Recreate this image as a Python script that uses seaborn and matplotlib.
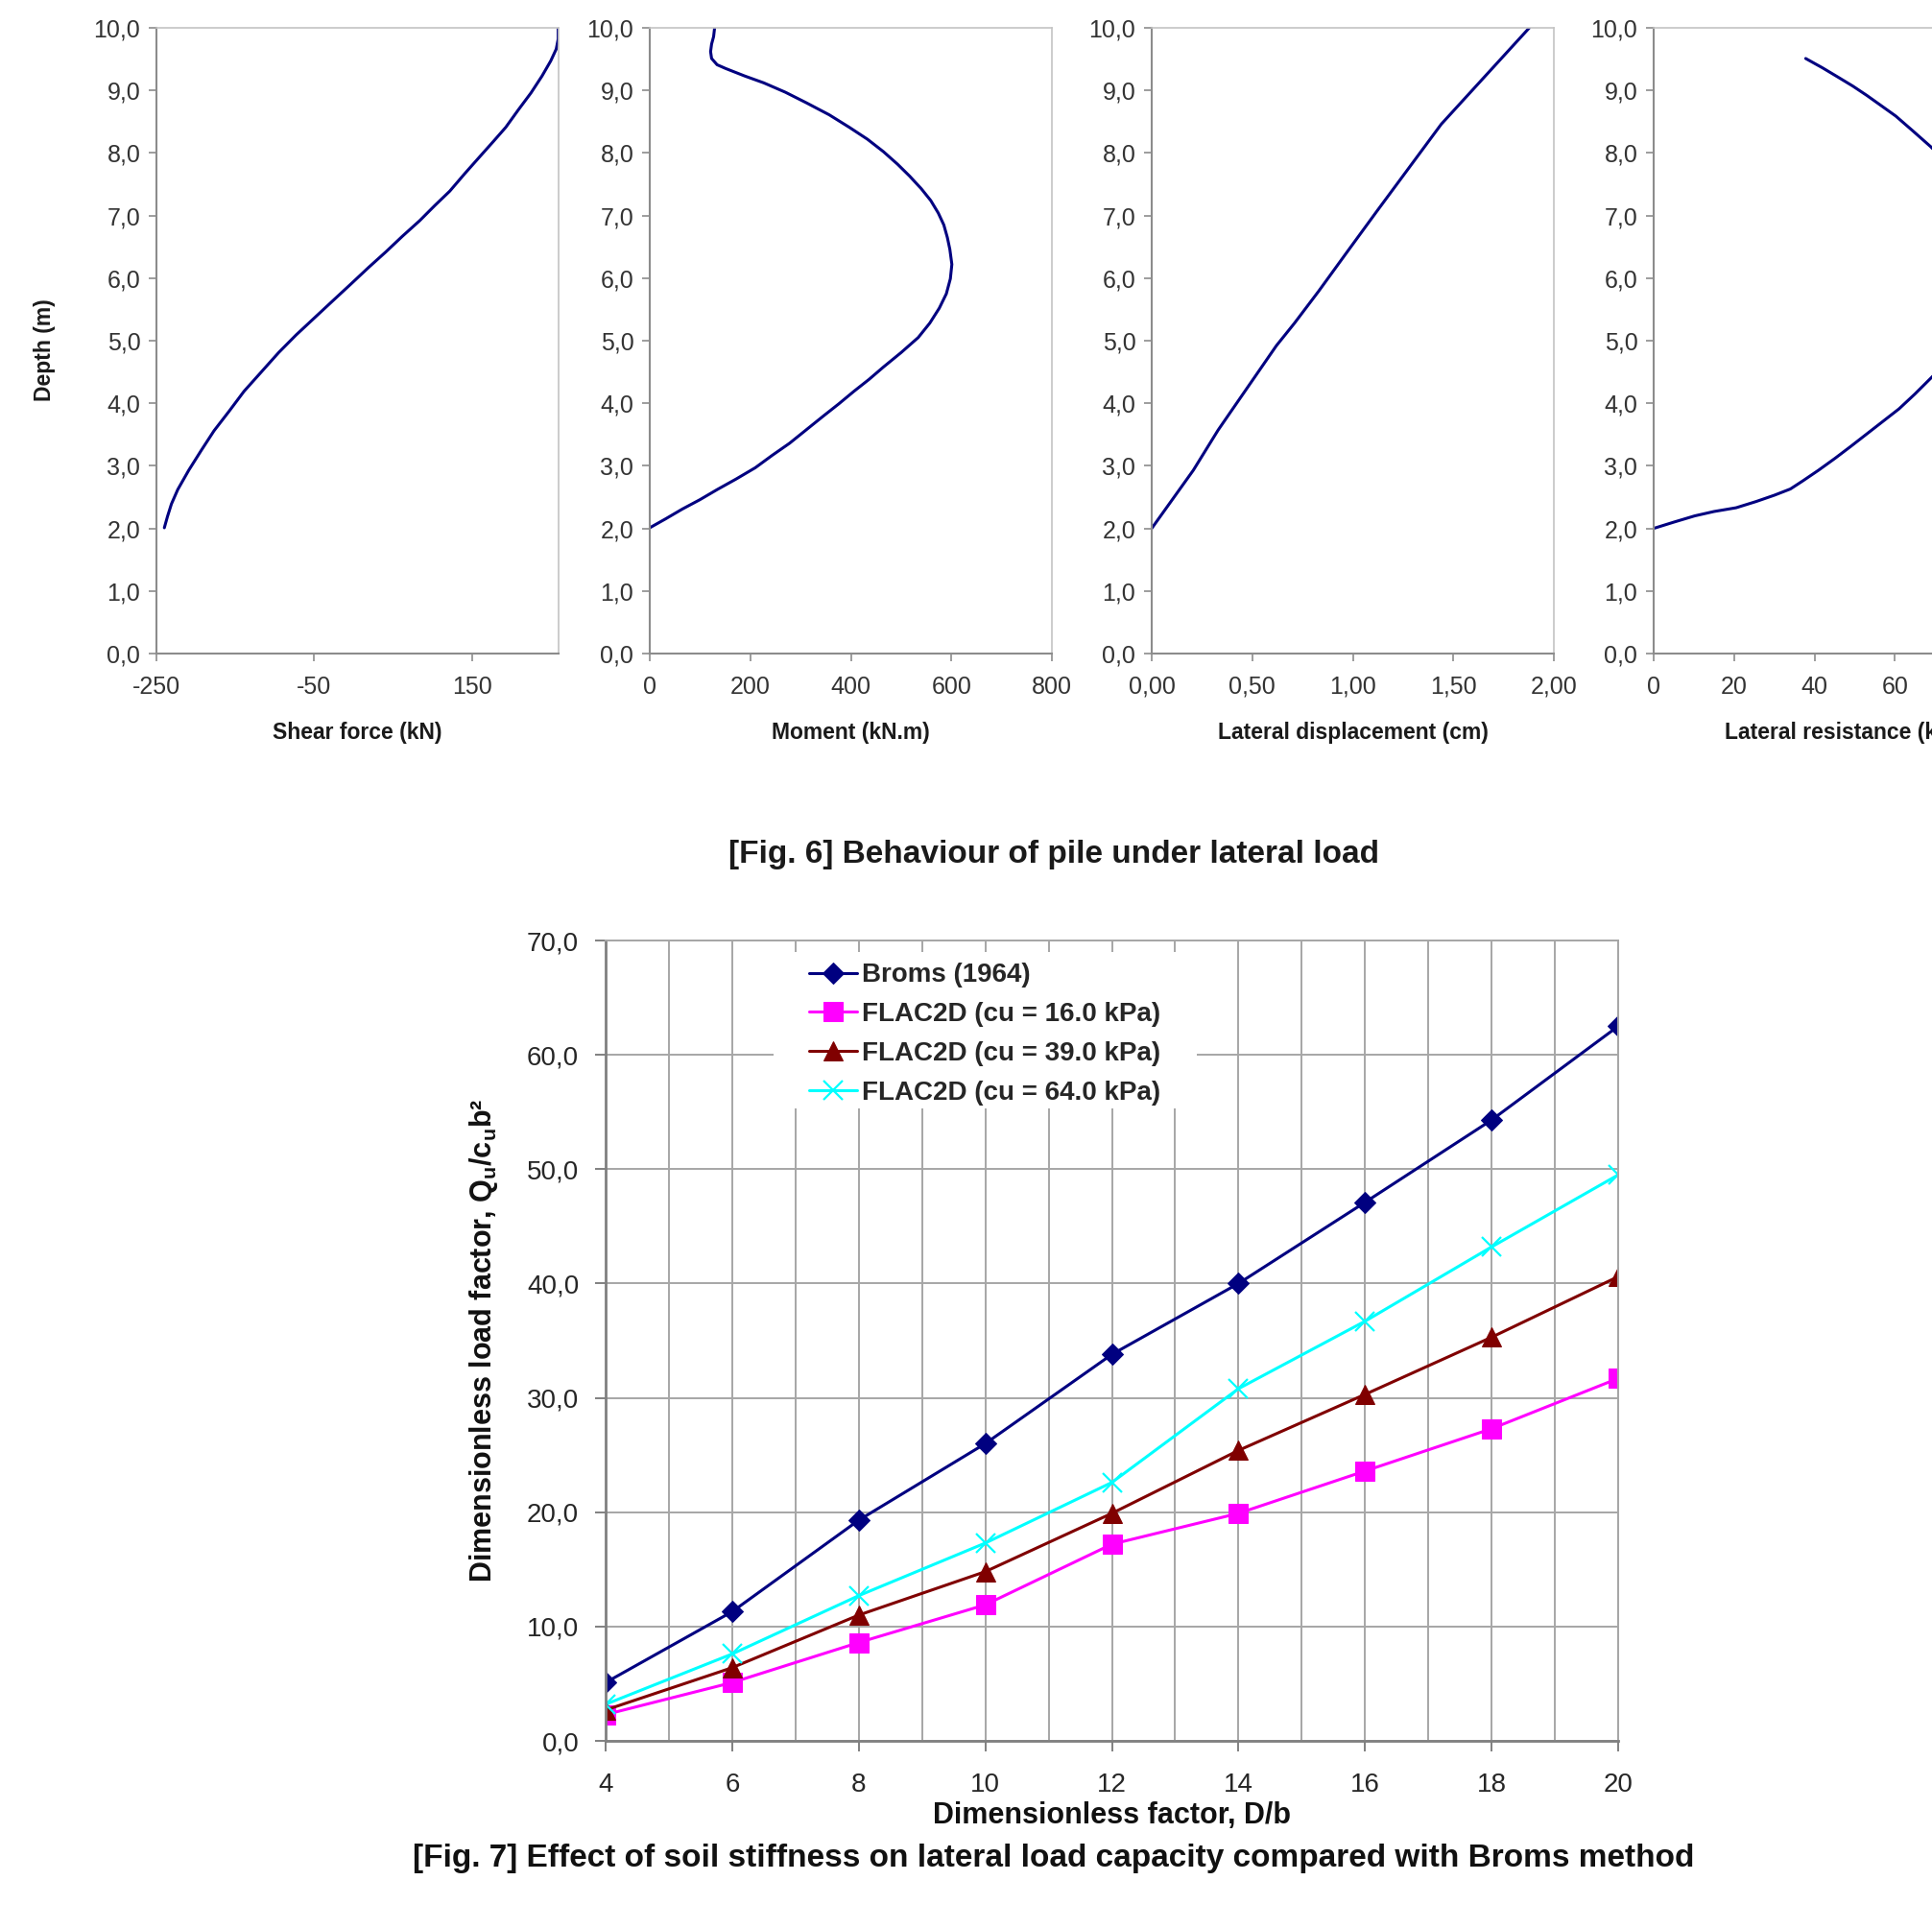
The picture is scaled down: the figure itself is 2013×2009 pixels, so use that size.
import matplotlib
matplotlib.use("Agg")
import matplotlib.pyplot as plt
from matplotlib.patches import Rectangle
import seaborn as sns

# ---- Fig. 6 data ----
shear_depth = [2.01, 2.19, 2.39, 2.62, 2.93, 3.25, 3.56, 3.87, 4.19, 4.50, 4.81, 5.09, 5.36, 5.63,
               5.91, 6.17, 6.42, 6.67, 6.92, 7.16, 7.39, 7.67, 7.94, 8.18, 8.41, 8.69, 8.96, 9.23,
               9.47, 9.66, 9.82, 10.0]
shear_force = [-240, -236, -231, -223, -209, -193, -177, -158, -139, -117, -95, -73, -50, -27,
               -3, 19, 41, 62, 84, 103, 122, 141, 160, 177, 193, 209, 225, 239,
               250, 257, 259.5, 259.5]

moment_depth = [2.01, 2.15, 2.31, 2.46, 2.62, 2.79, 2.97, 3.17, 3.36, 3.58, 3.80, 3.99, 4.19, 4.38,
                4.58, 4.81, 5.05, 5.28, 5.52, 5.75, 5.99, 6.22, 6.46, 6.65, 6.85, 7.04, 7.24, 7.43,
                7.63, 7.82, 8.02, 8.22, 8.41, 8.61, 8.80, 8.97, 9.12, 9.23, 9.35, 9.41, 9.51, 9.62,
                9.74, 9.86, 10.0]
moment = [0, 31, 65, 100, 134, 172, 210, 244, 278, 312, 346, 376, 406, 436,
          465, 500, 534, 557, 576, 590, 598, 601, 597, 592, 585, 574, 559, 540,
          517, 493, 465, 433, 397, 357, 312, 270, 227, 189, 151, 134, 123, 121,
          123, 127, 129]

disp_depth = [2.0, 2.93, 3.57, 3.85, 4.92, 5.28, 5.79, 6.41, 7.07, 8.46, 10.0]
displacement = [0.0, 0.207, 0.33, 0.39, 0.62, 0.71, 0.83, 0.97, 1.12, 1.44, 1.878]

resist_depth = [2.0, 2.1, 2.2, 2.27, 2.33, 2.43, 2.53, 2.63, 2.76, 2.93, 3.12, 3.31, 3.51, 3.71,
                3.91, 4.15, 4.4, 4.8, 5.3, 6.0, 6.7, 7.3, 7.7, 8.1, 8.35, 8.59, 8.76, 8.92,
                9.07, 9.21, 9.36, 9.51]
resistance = [0, 5, 10.2, 15, 20.5, 25.5, 30, 34, 37.1, 41, 45.1, 49, 53, 57,
              61, 65, 68.9, 75, 80, 83, 83, 80, 75, 68.9, 64.5, 60.2, 56.5, 53,
              49.5, 45.9, 42, 37.8]

depth_ticks = [0, 1, 2, 3, 4, 5, 6, 7, 8, 9, 10]
depth_labels = ["0,0", "1,0", "2,0", "3,0", "4,0", "5,0", "6,0", "7,0", "8,0", "9,0", "10,0"]

# ---- Fig. 7 data ----
d_over_b = [4, 6, 8, 10, 12, 14, 16, 18, 20]
broms = [5.1, 11.3, 19.3, 26.0, 33.8, 40.0, 47.1, 54.3, 62.5]
flac_16 = [2.3, 5.1, 8.6, 11.9, 17.2, 19.9, 23.6, 27.3, 31.7]
flac_39 = [2.7, 6.4, 11.0, 14.8, 19.9, 25.4, 30.3, 35.3, 40.6]
flac_64 = [3.2, 7.6, 12.7, 17.3, 22.6, 30.8, 36.7, 43.2, 49.5]
load_ticks = [0, 10, 20, 30, 40, 50, 60, 70]
load_labels = ["0,0", "10,0", "20,0", "30,0", "40,0", "50,0", "60,0", "70,0"]

sns.set_theme(style="white")
plt.rcParams['font.family'] = ['Liberation Sans', 'DejaVu Sans']
plt.rcParams['mathtext.fontset'] = 'custom'
plt.rcParams['mathtext.rm'] = 'Liberation Sans:bold'
plt.rcParams['mathtext.bf'] = 'Liberation Sans:bold'
plt.rcParams['mathtext.it'] = 'Liberation Sans:bold'

W, H = 2013, 2009
fig = plt.figure(figsize=(W / 100, H / 100), dpi=100)
NAVY = "#000080"


def px_axes(left, top, right, bottom):
    return fig.add_axes([left / W, 1 - bottom / H, (right - left) / W, (bottom - top) / H])


# ---- top row: behaviour of pile ----
panels = [
    (163, shear_force, shear_depth, (-250, 260), [-250, -50, 150], ["-250", "-50", "150"], "Shear force (kN)"),
    (677, moment, moment_depth, (0, 800), [0, 200, 400, 600, 800], ["0", "200", "400", "600", "800"], "Moment (kN.m)"),
    (1200, displacement, disp_depth, (0, 2), [0, 0.5, 1, 1.5, 2], ["0,00", "0,50", "1,00", "1,50", "2,00"],
     "Lateral displacement (cm)"),
    (1723, resistance, resist_depth, (0, 100), [0, 20, 40, 60, 80, 100], ["0", "20", "40", "60", "80", "100"],
     "Lateral resistance (kN/m)"),
]

for i, (left, xs, ys, xlim, xt, xtl, xlabel) in enumerate(panels):
    ax = px_axes(left, 29, left + 419, 681)
    sns.lineplot(x=xs, y=ys, sort=False, estimator=None, ax=ax, color=NAVY, lw=2.2)
    ax.set_xlim(*xlim)
    ax.set_ylim(0, 10)
    ax.set_yticks(depth_ticks)
    ax.set_yticklabels(depth_labels)
    ax.set_xticks(xt)
    ax.set_xticklabels(xtl)
    ax.tick_params(axis="both", labelsize=18, colors="#333333", length=6, width=1.2,
                   left=True, bottom=True, direction="out", pad=6)
    ax.tick_params(axis="x", pad=10.5)
    ax.tick_params(axis="both", color="#8c8c8c")
    for side in ["left", "bottom"]:
        ax.spines[side].set_color("#8c8c8c")
        ax.spines[side].set_linewidth(1.5)
    for side in ["top", "right"]:
        ax.spines[side].set_color("#c4c4c4")
        ax.spines[side].set_linewidth(1.2)
    ax.set_xlabel(xlabel, fontsize=16.5, fontweight="bold", color="#1a1a1a", labelpad=17)
    if i == 0:
        ax.set_ylabel("Depth (m)", fontsize=16.5, fontweight="bold", color="#1a1a1a")
        ax.yaxis.set_label_coords(-0.25, 0.485)

fig.text(1098 / W, 1 - 891 / H, "[Fig. 6] Behaviour of pile under lateral load",
         ha="center", va="center", fontsize=24, fontweight="bold", color="#1a1a1a")

# ---- bottom: effect of soil stiffness ----
ax = px_axes(631, 980, 1686, 1814)
ax.set_axisbelow(True)
sns.lineplot(x=d_over_b, y=broms, ax=ax, color=NAVY, lw=2.2, marker="D", markersize=11,
             markeredgecolor=NAVY, label="Broms (1964)")
sns.lineplot(x=d_over_b, y=flac_16, ax=ax, color="#ff00ff", lw=2.2, marker="s", markersize=14.5,
             markeredgecolor="#ff00ff", label="FLAC2D (cu = 16.0 kPa)")
sns.lineplot(x=d_over_b, y=flac_39, ax=ax, color="#800000", lw=2.2, marker="^", markersize=14.5,
             markeredgecolor="#800000", label="FLAC2D (cu = 39.0 kPa)")
sns.lineplot(x=d_over_b, y=flac_64, ax=ax, color="#00ffff", lw=2.2, marker="x", markersize=14,
             markeredgewidth=1.6, markeredgecolor="#00ffff", label="FLAC2D (cu = 64.0 kPa)")

ax.set_xlim(4, 20)
ax.set_ylim(0, 70)
ax.set_xticks(d_over_b)
ax.set_xticks(range(5, 20, 2), minor=True)
ax.set_yticks(load_ticks)
ax.set_yticklabels(load_labels)
ax.grid(which="both", axis="x", color="#a6a6a6", lw=1.4)
ax.grid(which="major", axis="y", color="#a6a6a6", lw=1.4)
ax.tick_params(axis="both", which="major", labelsize=20, colors="#262626", length=8, width=1.4,
               left=True, bottom=True, direction="out", pad=12)
ax.tick_params(axis="x", which="major", pad=15.5)
ax.tick_params(axis="both", which="major", color="#808080")
ax.tick_params(axis="x", which="minor", length=0)
for side in ["left", "bottom"]:
    ax.spines[side].set_color("#808080")
    ax.spines[side].set_linewidth(2.0)
for side in ["top", "right"]:
    ax.spines[side].set_color("#a6a6a6")
    ax.spines[side].set_linewidth(1.4)

ax.add_patch(Rectangle((0.166, 0.79), 0.418, 0.1956, transform=ax.transAxes,
                       facecolor="white", edgecolor="none", zorder=1))
ax.legend(loc="upper left", bbox_to_anchor=(0.201, 0.972), frameon=False, borderpad=0,
          borderaxespad=0, handlelength=1.8, handletextpad=0.18, labelspacing=0.53,
          prop={"weight": "bold", "size": 20})

ax.set_xlabel("Dimensionless factor, D/b", fontsize=22, fontweight="bold", color="#111111", labelpad=3)
ax.set_ylabel(r"Dimensionless load factor, Q$_\mathbf{u}$/c$_\mathbf{u}$b²", fontsize=22,
              fontweight="bold", color="#111111")
ax.yaxis.set_label_coords(-0.104, 0.5)

fig.text(1098 / W, 1 - 1937 / H,
         "[Fig. 7] Effect of soil stiffness on lateral load capacity compared with Broms method",
         ha="center", va="center", fontsize=24, fontweight="bold", color="#111111")

fig.savefig("out.png", dpi=100)
